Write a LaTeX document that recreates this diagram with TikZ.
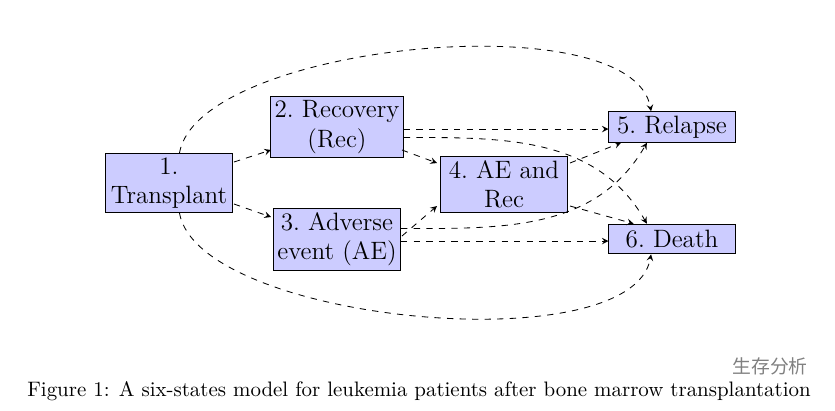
\documentclass[tikz,border=0pt]{standalone}
\usepackage{fontspec}
\newfontfamily\cjk{Noto Sans CJK SC}
\usetikzlibrary{arrows,positioning}

\tikzset{
  state/.style={draw, fill=blue!20, minimum width=2.12cm, align=center, inner sep=2pt, font=\large},
  trans/.style={->, >=stealth, dashed},
}

\begin{document}
\begin{tikzpicture}[x=0.0168cm, y=-0.0168cm]
        \useasboundingbox (0,0) rectangle (835,410);

        % states
        \node[state, minimum height=0.97cm] (tp) at (169,183) {1.\\Transplant};
        \node[state, minimum height=1cm] (rec) at (337,127) {2.\ Recovery\\(Rec)};
        \node[state, minimum height=1cm] (ae) at (337,239) {3.\ Adverse\\event (AE)};
        \node[state, minimum height=0.9cm] (aerec) at (504,184) {4.\ AE and\\Rec};
        \node[state, minimum height=0.5cm] (rel) at (672,127) {5.\ Relapse};
        \node[state, minimum height=0.5cm] (death) at (672,239) {6.\ Death};

        % end points of the short transitions
        \coordinate (tp1) at (234,162);
        \coordinate (tp2) at (234,204);
        \coordinate (rec1) at (271,150);
        \coordinate (ae1) at (271,217);
        \coordinate (rec2) at (402,150);
        \coordinate (ae2) at (402,236);
        \coordinate (ar1) at (437,163);
        \coordinate (ar2) at (437,206);
        \coordinate (ar3) at (570,163);
        \coordinate (ar4) at (570,206);

        % short transitions
        \draw[trans] (tp1) -- (rec1);
        \draw[trans] (tp2) -- (ae1);
        \draw[trans] (rec2) -- (ar1);
        \draw[trans] (ae2) -- (ar2);
        \draw[trans] ([yshift=-1pt]rec.east) -- ([yshift=-1pt]rel.west);
        \draw[trans] ([yshift=-1pt]ae.east) -- ([yshift=-1pt]death.west);
        \draw[trans] (ar3) -- ([xshift=6pt]rel.south west);
        \draw[trans] (ar4) -- ([xshift=12pt]death.north west);

        % crossing transitions
        \draw[trans] ([yshift=-5pt]rec.east) to[out=0, in=120] ([xshift=-12pt]death.north);
        \draw[trans] ([yshift=5pt]ae.east) to[out=0, in=-120] ([xshift=-12pt]rel.south);

        % long transitions from transplant
        \draw[trans] ([xshift=5pt]tp.north) to[out=80, in=100, looseness=0.6] ([xshift=-10pt]rel.north);
        \draw[trans] ([xshift=5pt]tp.south) to[out=-80, in=-100, looseness=0.6] ([xshift=-10pt]death.south);

        % caption
        \node (cap) at (419,391) {Figure 1: A six-states model for leukemia patients after bone marrow transplantation};
        \node[text=gray, font=\cjk\small] (wm) at (770,366) {生存分析};
\end{tikzpicture}
\end{document}
